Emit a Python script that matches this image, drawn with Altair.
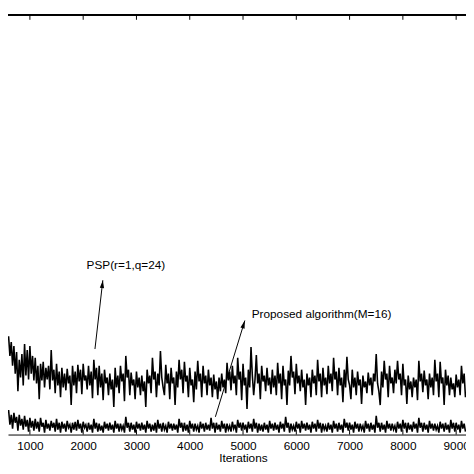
import altair as alt
import pandas as pd

# ---------------- data ----------------
# sample positions (iterations) of the visible part of the curves
iterations = list(range(600, 9176, 25))

# PSP(r=1,q=24) curve (units: 1e-3)
psp = [
    100, 80, 94, 70, 90, 62, 84, 44, 76, 58, 82, 50, 92, 60, 86, 56, 90, 62, 80, 55,
    78, 52, 70, 36, 72, 55, 74, 48, 68, 56, 70, 46, 86, 55, 66, 42, 72, 50, 64, 38,
    68, 48, 62, 45, 67, 52, 60, 30, 70, 50, 64, 42, 71, 54, 66, 41, 72, 55, 60, 46,
    70, 50, 64, 37, 76, 56, 68, 40, 70, 48, 62, 35, 66, 52, 58, 40, 62, 46, 56, 28,
    68, 48, 60, 42, 70, 54, 62, 34, 80, 58, 66, 40, 63, 50, 56, 36, 64, 48, 58, 40,
    60, 44, 54, 28, 66, 52, 60, 42, 78, 56, 64, 38, 62, 50, 85, 58, 48, 40, 71, 52,
    62, 36, 68, 52, 58, 30, 64, 48, 76, 56, 66, 42, 74, 54, 60, 38, 68, 50, 56, 33,
    64, 46, 75, 54, 62, 38, 70, 52, 60, 40, 66, 50, 58, 38, 61, 46, 54, 36, 58, 44,
    62, 48, 56, 42, 73, 55, 64, 45, 70, 52, 60, 40, 78, 56, 64, 35, 72, 50, 58, 26,
    66, 48, 89, 60, 40, 56, 81, 52, 62, 36, 70, 54, 60, 44, 68, 50, 58, 41, 66, 48,
    60, 40, 73, 52, 62, 36, 70, 50, 56, 30, 65, 50, 80, 58, 64, 41, 72, 52, 60, 44,
    66, 48, 56, 30, 62, 50, 58, 38, 66, 52, 60, 40, 76, 54, 62, 38, 68, 50, 58, 41,
    70, 52, 62, 44, 78, 56, 64, 40, 68, 50, 58, 33, 66, 48, 79, 56, 50, 36, 66, 48,
    58, 40, 64, 50, 56, 31, 60, 48, 54, 42, 63, 50, 58, 40, 62, 54, 82, 52, 44, 30,
    64, 48, 75, 56, 62, 38, 70, 52, 58, 42, 66, 52, 75, 56, 62, 40, 72, 50, 56, 31,
    60, 46, 54, 38, 58, 48, 56, 35, 75, 54, 62, 43, 65, 50, 56, 36, 62, 48, 58, 40,
    76, 54, 62, 38, 74, 52, 58, 30, 66, 50, 60, 40, 58, 46, 52, 38, 61, 48, 56, 40,
    70, 52, 62, 38,
]

# Proposed algorithm(M=16) curve (units: 1e-3)
proposed = [
    25, 10, 20, 6, 22, 12, 18, 4, 20, 9, 16, 5, 19, 8, 15, 3, 17, 7, 14, 4,
    16, 6, 13, 3, 17, 8, 12, 2, 15, 6, 11, 4, 14, 7, 12, 3, 16, 5, 12, 2,
    13, 6, 11, 3, 14, 7, 10, 2, 12, 5, 13, 4, 15, 6, 11, 2, 13, 7, 10, 3,
    12, 5, 10, 2, 16, 6, 12, 3, 11, 4, 9, 2, 13, 6, 11, 4, 12, 5, 10, 2,
    14, 6, 11, 3, 11, 5, 9, 2, 18, 7, 12, 3, 12, 5, 10, 2, 13, 6, 11, 4,
    12, 5, 10, 2, 14, 6, 11, 3, 10, 4, 12, 2, 15, 6, 11, 3, 12, 5, 9, 2,
    13, 6, 11, 4, 11, 5, 10, 2, 16, 7, 12, 3, 12, 4, 10, 2, 14, 6, 11, 3,
    11, 5, 9, 2, 13, 6, 11, 3, 12, 5, 10, 4, 17, 6, 12, 2, 12, 5, 10, 3,
    14, 6, 11, 2, 11, 5, 9, 3, 13, 6, 10, 2, 15, 7, 12, 4, 12, 5, 10, 2,
    13, 6, 11, 3, 16, 6, 12, 2, 11, 4, 10, 3, 12, 5, 10, 2, 14, 6, 11, 4,
    12, 5, 10, 2, 13, 6, 11, 3, 18, 7, 12, 2, 11, 5, 9, 3, 13, 6, 11, 2,
    14, 6, 11, 4, 12, 5, 10, 2, 13, 6, 11, 3, 15, 6, 12, 2, 11, 5, 9, 3,
    12, 5, 10, 2, 14, 6, 11, 3, 12, 5, 10, 2, 16, 7, 12, 4, 12, 5, 10, 2,
    13, 6, 11, 3, 11, 5, 9, 2, 14, 6, 11, 3, 12, 5, 10, 2, 19, 7, 12, 3,
    12, 5, 10, 2, 14, 6, 11, 4, 11, 5, 9, 2, 13, 6, 11, 3, 15, 6, 12, 2,
    12, 5, 10, 3, 13, 6, 11, 2, 17, 7, 12, 3, 12, 5, 10, 2, 14, 6, 11, 4,
    11, 5, 9, 2, 13, 6, 11, 3, 12, 5, 10, 2, 15, 6, 12, 3, 12, 5, 10, 2,
    14, 6, 11, 3,
]

tick_values = [1000, 2000, 3000, 4000, 5000, 6000, 7000, 8000, 9000]

# annotations
labels = ["PSP(r=1,q=24)", "Proposed algorithm(M=16)"]
label_it = [2064, 5163]
label_h = [172, 123]
arrow_tail_it = [2221, 4481]
arrow_tail_h = [87, 18]
arrow_head_it = [2369, 5034]
arrow_head_h = [157, 116]
arrow_angle = [6.5, 17]

# ---------------- tables ----------------
n = min(len(iterations), len(psp), len(proposed))
curves = pd.DataFrame({
    "it": iterations[:n] * 2,
    "h": psp[:n] + proposed[:n],
    "series": ["PSP"] * n + ["Proposed"] * n,
})
ticks = pd.DataFrame({"it": tick_values})
ann = pd.DataFrame({
    "label": labels, "lit": label_it, "lh": label_h,
    "tit": arrow_tail_it, "th": arrow_tail_h,
    "hit": arrow_head_it, "hh": arrow_head_h, "ang": arrow_angle,
})

FONT = "Liberation Sans, Arial, Helvetica, sans-serif"
W, H = 466, 427

X_SCALE = alt.Scale(domain=[589, 9185], nice=False, zero=False)
Y_SCALE = alt.Scale(domain=[0, 427], nice=False, zero=False)
X_AXIS = alt.Axis(
    values=tick_values, format="d", title="Iterations",
    tickSize=0, labelPadding=6, labelFontSize=12, labelFont=FONT,
    labelColor="black", labelFlush=False, labelOverlap=False,
    titleFont=FONT, titleFontSize=12, titleFontWeight="normal",
    titleColor="black", titleX=239, titleY=27, titleAlign="center",
    titleBaseline="alphabetic", domainColor="black", domainWidth=1,
    grid=False,
)


def X(field):
    return alt.X(field, type="quantitative", scale=X_SCALE, axis=X_AXIS)


def Y(field):
    return alt.Y(field, type="quantitative", scale=Y_SCALE, axis=None)


lines = alt.Chart(curves).mark_line(color="black", strokeWidth=1.6, clip=True).encode(
    x=X("it"), y=Y("h"), detail="series:N"
)

top_border = alt.Chart(ticks).mark_rule(color="black", strokeWidth=1).encode(
    x=alt.value(0), x2=alt.value(W), y=alt.value(0)
)
top_ticks = alt.Chart(ticks).mark_rule(color="black", strokeWidth=1).encode(
    x=X("it"), y=alt.value(0), y2=alt.value(5)
)
bottom_ticks = alt.Chart(ticks).mark_rule(color="black", strokeWidth=1).encode(
    x=X("it"), y=alt.value(H - 5), y2=alt.value(H)
)

arrows = alt.Chart(ann).mark_rule(color="black", strokeWidth=1).encode(
    x=X("tit"), y=Y("th"), x2="hit:Q", y2="hh:Q"
)
heads = alt.Chart(ann).mark_point(
    shape="M0,0L0.55,2L-0.55,2Z", filled=True, size=64, color="black",
    opacity=1, strokeWidth=0,
).encode(x=X("hit"), y=Y("hh"), angle=alt.Angle("ang:Q", scale=None))

texts = alt.Chart(ann).mark_text(
    align="left", baseline="middle", font=FONT, fontSize=12, color="black"
).encode(x=X("lit"), y=Y("lh"), text="label:N")

chart = alt.layer(
    bottom_ticks, lines, top_border, top_ticks, arrows, heads, texts
).properties(
    width=W, height=H,
    autosize=alt.AutoSizeParams(type="none"),
    padding={"left": 0, "top": 3, "right": 0, "bottom": 28},
    background="white",
).configure_view(stroke=None)

chart.save("out.html", embed_options={"renderer": "svg", "actions": False})
